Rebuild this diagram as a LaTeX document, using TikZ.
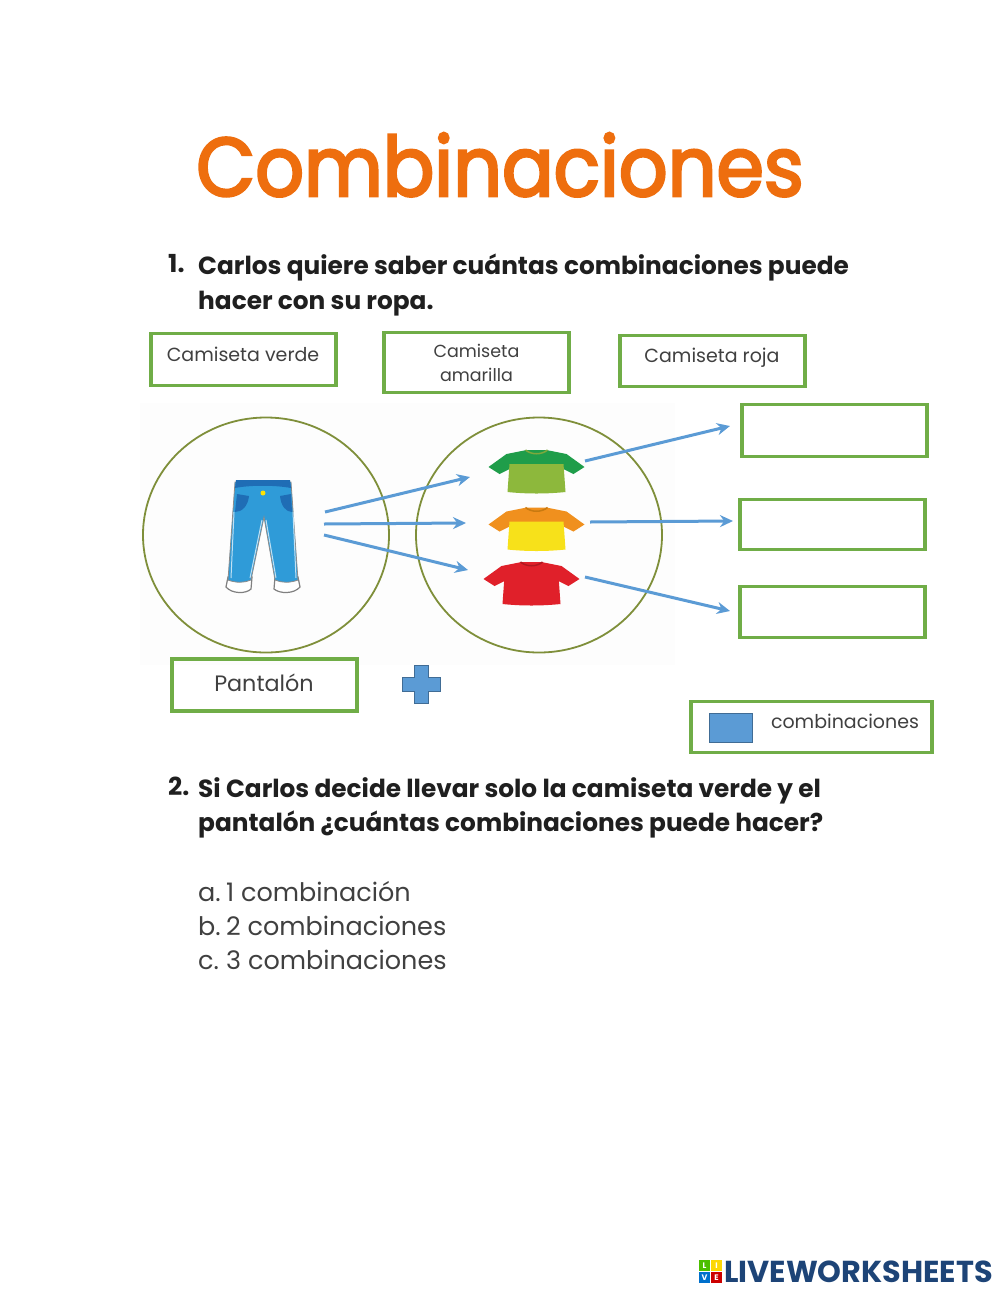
\documentclass[tikz,border=0pt]{standalone}
\usepackage{fontspec}
\setmainfont{Poppins}
\newfontfamily\titlefont[FakeBold=3,FakeStretch=0.92]{Poppins}
\usetikzlibrary{arrows.meta,shapes.geometric}

\definecolor{boxgreen}{HTML}{70AD47}
\definecolor{ringgreen}{HTML}{7F8F3A}
\definecolor{arrowblue}{HTML}{5B9BD5}
\definecolor{titleorange}{HTML}{EE6E0E}
\definecolor{logoblue}{HTML}{1D4477}
\definecolor{jeanblue}{HTML}{2F9BD8}
\definecolor{jeandark}{HTML}{1F6DB5}
\definecolor{shirtgreen}{HTML}{8DB83C}
\definecolor{sleevegreen}{HTML}{1F9D4A}
\definecolor{collargreen}{HTML}{7FA83C}
\definecolor{shirtyellow}{HTML}{F7E11A}
\definecolor{sleeveorange}{HTML}{F0901E}
\definecolor{collarorange}{HTML}{C97A10}
\definecolor{shirtred}{HTML}{E0202A}
\definecolor{collarred}{HTML}{B01820}

\tikzset{
  greenbox/.style={draw=boxgreen,line width=3.4pt,minimum width=185pt,inner sep=0pt},
  ring/.style={draw=ringgreen,line width=1.8pt,ellipse,minimum width=246pt,minimum height=235pt,inner sep=0pt},
  linkarrow/.style={draw=arrowblue,line width=3pt,-{Stealth[length=13pt,width=12pt]}},
  boxtext/.style={inner sep=0pt,anchor=base,text=black!75,font=\fontsize{19}{19}\selectfont},
  smalltext/.style={inner sep=0pt,text=black!75,align=center,font=\fontsize{17.5}{24}\selectfont},
  question/.style={inner sep=0pt,anchor=north west,align=left,text=black!88,font=\fontsize{24.8}{34.5}\selectfont\bfseries},
  answer/.style={inner sep=0pt,anchor=base west,text=black!75,font=\fontsize{25.5}{25.5}\selectfont},
  tile/.style={minimum size=11pt,inner sep=0pt,text=white,font=\fontsize{8}{8}\selectfont\bfseries},
  pics/shirt/.style n args={3}{code={
    \fill[#2] (-10,-22) -- (-30,-18) -- (-48,-5) -- (-37,2) -- (-27,-3) -- (27,-3) -- (37,2) -- (48,-5) -- (30,-18) -- (10,-22) -- cycle;
    \fill[#1] (-27,-8) -- (27,-8) -- (29,20) .. controls (10,22) and (-10,22) .. (-29,20) -- cycle;
    \draw[#3,line width=1.5pt] (-11,-22) .. controls (-5,-17) and (5,-17) .. (11,-22);
  }}
}

\begin{document}
\begin{tikzpicture}[x=1pt,y=-1pt]
  \useasboundingbox (0,0) rectangle (1000,1291);
  \fill[white] (0,0) rectangle (1000,1291);
  \fill[black!0.7] (140,403) rectangle (675,665);

  \node[inner sep=0pt,anchor=base,text=titleorange,font=\fontsize{83}{83}\titlefont] (title) at (500,196) {Combinaciones};

  \node[question] (num1) at (168,254) {1.};
  \node[question] (q1) at (198,254) {Carlos quiere saber cuántas combinaciones puede\\hacer con su ropa.};

  % labels on top
  \node[greenbox,minimum height=52pt] (verde) at (243.5,359.5) {};
  \node[greenbox,minimum height=60pt] (amarilla) at (476.5,362.5) {};
  \node[greenbox,minimum height=51pt] (roja) at (712.5,361) {};
  \node[boxtext] (verdetext) at (243,361) {Camiseta verde};
  \node[smalltext] (amarillatext) at (476.5,363) {Camiseta\\amarilla};
  \node[boxtext] (rojatext) at (712,362) {Camiseta roja};

  % answer boxes
  \node[greenbox,minimum height=52pt] (resa) at (834.5,430.5) {};
  \node[greenbox,minimum height=50pt] (resb) at (832.5,524.5) {};
  \node[greenbox,minimum height=51pt] (resc) at (832.5,612) {};

  \node[ring] (ringa) at (266,535) {};
  \node[ring] (ringb) at (539,535) {};

  % pants
  \draw[black!50,line width=1.2pt,fill=white] (228,577) -- (226,587) .. controls (232,594) and (246,594) .. (251,589) -- (252,577) -- cycle;
  \draw[black!50,line width=1.2pt,fill=white] (275,577) -- (274,589) .. controls (280,594) and (294,594) .. (300,587) -- (298,577) -- cycle;
  \draw[black!45,line width=.8pt,fill=jeanblue] (235,482) -- (291,482) -- (298,580) .. controls (290,583) and (282,583) .. (275,580) -- (264,517) -- (251,580) .. controls (244,583) and (236,583) .. (228,580) -- cycle;
  \fill[jeandark] (236,480) -- (290,480) -- (291,488) .. controls (275,485) and (250,485) .. (235,488) -- cycle;
  \fill[jeandark] (237,494) -- (249,496) .. controls (248,506) and (242,512) .. (235,512) -- cycle;
  \fill[jeandark] (280,496) -- (291,494) -- (292,512) .. controls (286,512) and (281,506) .. (280,496) -- cycle;
  \draw[white!70!jeanblue,line width=1pt] (234,512) -- (231,578) (293,512) -- (296,578) (262,520) -- (250,578) (266,520) -- (276,578);
  \fill[yellow!85!orange] (263,493) circle (2.5pt);

  % shirts
  \pic at (536.5,472) {shirt={shirtgreen}{sleevegreen}{collargreen}};
  \pic at (536.5,529.5) {shirt={shirtyellow}{sleeveorange}{collarorange}};
  \pic at (531.5,584) {shirt={shirtred}{shirtred}{collarred}};

  \coordinate (pantsa) at (325,512);
  \coordinate (pantsb) at (324,524);
  \coordinate (pantsc) at (324,535);
  \coordinate (shirtain) at (470,477);
  \coordinate (shirtbin) at (466,523);
  \coordinate (shirtcin) at (468,570);
  \coordinate (shirtaout) at (585,461);
  \coordinate (shirtbout) at (590,522);
  \coordinate (shirtcout) at (585,577);
  \coordinate (resain) at (730,426);
  \coordinate (resbin) at (733,521);
  \coordinate (rescin) at (730,611);

  \foreach \from/\to in {pantsa/shirtain,pantsb/shirtbin,pantsc/shirtcin,shirtaout/resain,shirtbout/resbin,shirtcout/rescin}
    \draw[linkarrow] (\from) -- (\to);

  % bottom row
  \node[greenbox,minimum height=52pt] (pantalon) at (264.5,685) {};
  \node[boxtext,font=\fontsize{22.3}{22.3}\selectfont] (pantalontext) at (264,691) {Pantalón};
  \fill[arrowblue,draw=arrowblue!70!black,line width=.8pt] (414,665) -- (428,665) -- (428,677) -- (440,677) -- (440,691) -- (428,691) -- (428,703) -- (414,703) -- (414,691) -- (402,691) -- (402,677) -- (414,677) -- cycle;

  \node[greenbox,minimum width=241pt,minimum height=51pt] (total) at (811.5,727) {};
  \node[draw=arrowblue!70!black,fill=arrowblue,line width=.8pt,minimum width=43pt,minimum height=29pt,inner sep=0pt] (totalsq) at (730.5,727.5) {};
  \node[boxtext] (totaltext) at (845,728) {combinaciones};

  \node[question] (num2) at (168,777) {2.};
  \node[question] (q2) at (198,777) {Si Carlos decide llevar solo la camiseta verde y el\\pantalón ¿cuántas combinaciones puede hacer?};

  \node[answer] at (198,901) {a.};
  \node[answer] at (226,901) {1 combinación};
  \node[answer] at (198,935) {b.};
  \node[answer] at (226,935) {2 combinaciones};
  \node[answer] at (198,969) {c.};
  \node[answer] at (226,969) {3 combinaciones};

  % logo
  \node[tile,fill=green!60!yellow!75!black] (tilea) at (704.5,1265.5) {L};
  \node[tile,fill=yellow!75!orange] (tileb) at (716.5,1265.5) {I};
  \node[tile,fill=blue!45!cyan!80!black] (tilec) at (704.5,1277.5) {V};
  \node[tile,fill=red!80!black] (tiled) at (716.5,1277.5) {E};
  \node[inner sep=0pt,anchor=base west,text=logoblue,font=\fontsize{30.3}{30.3}\selectfont\bfseries] (logo) at (724,1282) {LIVEWORKSHEETS};
\end{tikzpicture}
\end{document}
